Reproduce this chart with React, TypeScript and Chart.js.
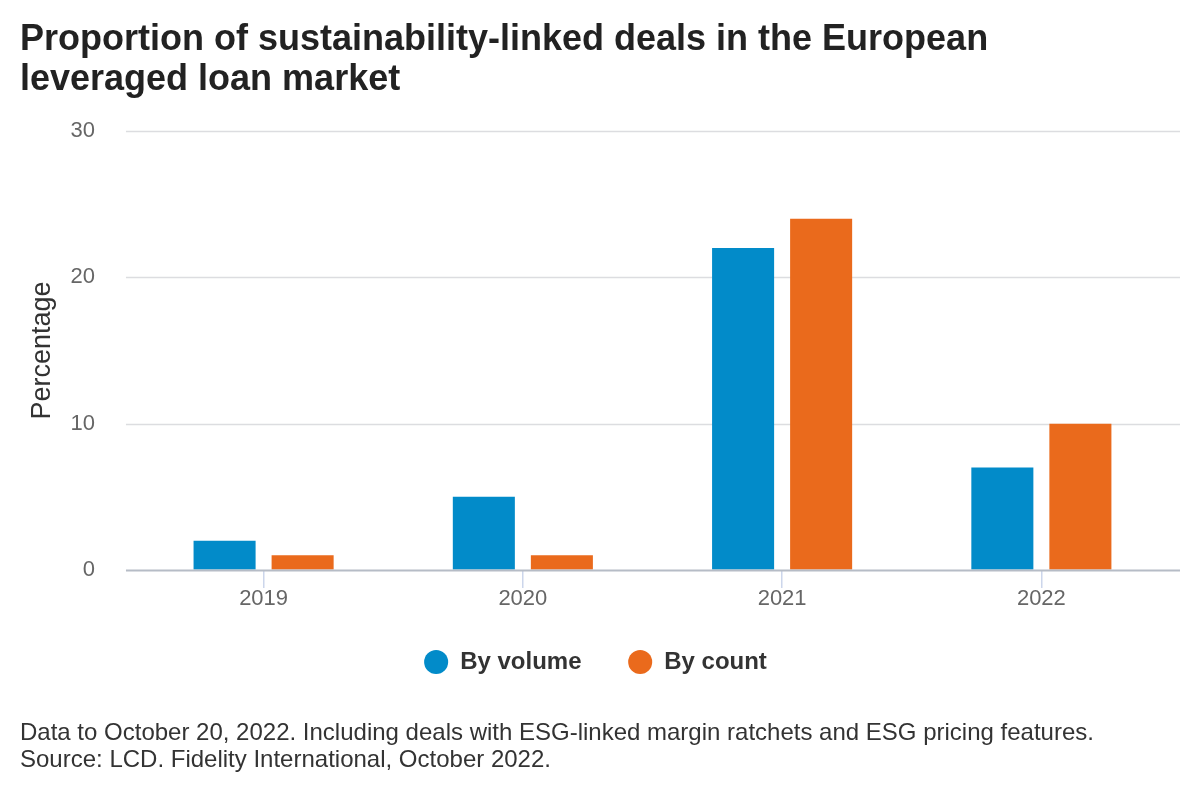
import React, { useEffect, useRef } from "react";
import { Chart, registerables } from "chart.js";

Chart.register(...registerables);

const categories = ["2019", "2020", "2021", "2022"];
const byVolume = [2, 5, 22, 7];
const byCount = [1, 1, 24, 10];
const yTicks = [0, 10, 20, 30];

const FONT = "'Liberation Sans', Arial, Helvetica, sans-serif";

const gridPlugin = {
  id: "extendedGrid",
  beforeDatasetsDraw(chart: any) {
    const { ctx, chartArea, scales } = chart;
    const y = scales.y;
    ctx.save();
    ctx.strokeStyle = "#dcdde0";
    ctx.lineWidth = 1.5;
    y.ticks.forEach((t: any) => {
      if (t.value === 0) return;
      const py = Math.round(y.getPixelForValue(t.value)) + 0.5;
      ctx.beginPath();
      ctx.moveTo(chartArea.left - 8, py);
      ctx.lineTo(chartArea.right + 9, py);
      ctx.stroke();
    });
    ctx.restore();
  },
  afterDatasetsDraw(chart: any) {
    const { ctx, chartArea, scales } = chart;
    const y = scales.y;
    const py = y.getPixelForValue(0) + 0.5;
    ctx.save();
    ctx.strokeStyle = "#b6bcc6";
    ctx.lineWidth = 2;
    ctx.beginPath();
    ctx.moveTo(chartArea.left - 8, py);
    ctx.lineTo(chartArea.right + 9, py);
    ctx.stroke();
    ctx.restore();
  },
};

export default function App() {
  const ref = useRef<HTMLCanvasElement | null>(null);

  useEffect(() => {
    if (!ref.current) return;
    Chart.defaults.font.family = FONT;
    const chart = new Chart(ref.current, {
      type: "bar",
      data: {
        labels: categories,
        datasets: [
          {
            label: "By volume",
            data: byVolume,
            backgroundColor: "#028bc9",
            categoryPercentage: 0.602,
            barPercentage: 0.795,
          },
          {
            label: "By count",
            data: byCount,
            backgroundColor: "#ea6a1c",
            categoryPercentage: 0.602,
            barPercentage: 0.795,
          },
        ],
      },
      options: {
        animation: false,
        responsive: false,
        events: [],
        layout: { padding: { left: 20, right: 29, top: 131, bottom: 116 } },
        plugins: {
          title: { display: false },
          tooltip: { enabled: false },
          legend: {
            display: true,
            position: "bottom",
            labels: {
              usePointStyle: true,
              pointStyle: "circle",
              boxHeight: 17,
              boxWidth: 24,
              padding: 40,
              color: "#333333",
              font: { size: 24, weight: "bold", family: FONT },
              generateLabels: (c: any) =>
                Chart.defaults.plugins.legend.labels
                  .generateLabels(c)
                  .map((l: any, i: number) => (i === 0 ? { ...l, text: l.text + " " } : l)),
            },
          },
        },
        scales: {
          x: {
            grid: {
              display: true,
              drawOnChartArea: false,
              drawTicks: true,
              tickLength: 18,
              color: "#ccd6eb",
              lineWidth: 1.5,
              offset: false,
            },
            border: { display: false },
            ticks: {
              color: "#666666",
              padding: 0,
              font: { size: 22, family: FONT, lineHeight: 1 },
            },
          },
          y: {
            min: 0,
            max: 30,
            afterBuildTicks: (axis: any) => {
              axis.ticks = yTicks.map((v) => ({ value: v }));
            },
            grid: {
              display: true,
              drawOnChartArea: false,
              drawTicks: true,
              tickLength: 35,
              color: "rgba(0,0,0,0)",
            },
            border: { display: false },
            ticks: {
              color: "#666666",
              padding: 4,
              font: { size: 22, family: FONT },
            },
            title: {
              display: true,
              text: "Percentage",
              color: "#333333",
              font: { size: 27, family: FONT },
              padding: { top: 6.3, bottom: 7.8 },
            },
          },
        },
      },
      plugins: [gridPlugin],
    });
    return () => chart.destroy();
  }, []);

  return (
    <div
      style={{
        position: "fixed",
        left: 0,
        top: 0,
        width: 1200,
        height: 800,
        background: "#ffffff",
        fontFamily: FONT,
      }}
    >
      <canvas
        ref={ref}
        width={1200}
        height={800}
        style={{ position: "absolute", left: 0, top: 0, width: 1200, height: 800 }}
      />
      <div
        style={{
          position: "absolute",
          left: 20,
          top: 18,
          fontSize: 36,
          fontWeight: "bold",
          lineHeight: "40px",
          color: "#222222",
          width: 1150,
          whiteSpace: "nowrap",
        }}
      >
        Proportion of sustainability-linked deals in the European
        <br />
        leveraged loan market
      </div>
      <div
        style={{
          position: "absolute",
          left: 20,
          top: 718,
          fontSize: 24,
          lineHeight: "27px",
          color: "#333333",
          width: 1170,
          whiteSpace: "nowrap",
        }}
      >
        Data to October 20, 2022. Including deals with ESG-linked margin ratchets and ESG pricing features.
        <br />
        Source: LCD. Fidelity International, October 2022.
      </div>
    </div>
  );
}
